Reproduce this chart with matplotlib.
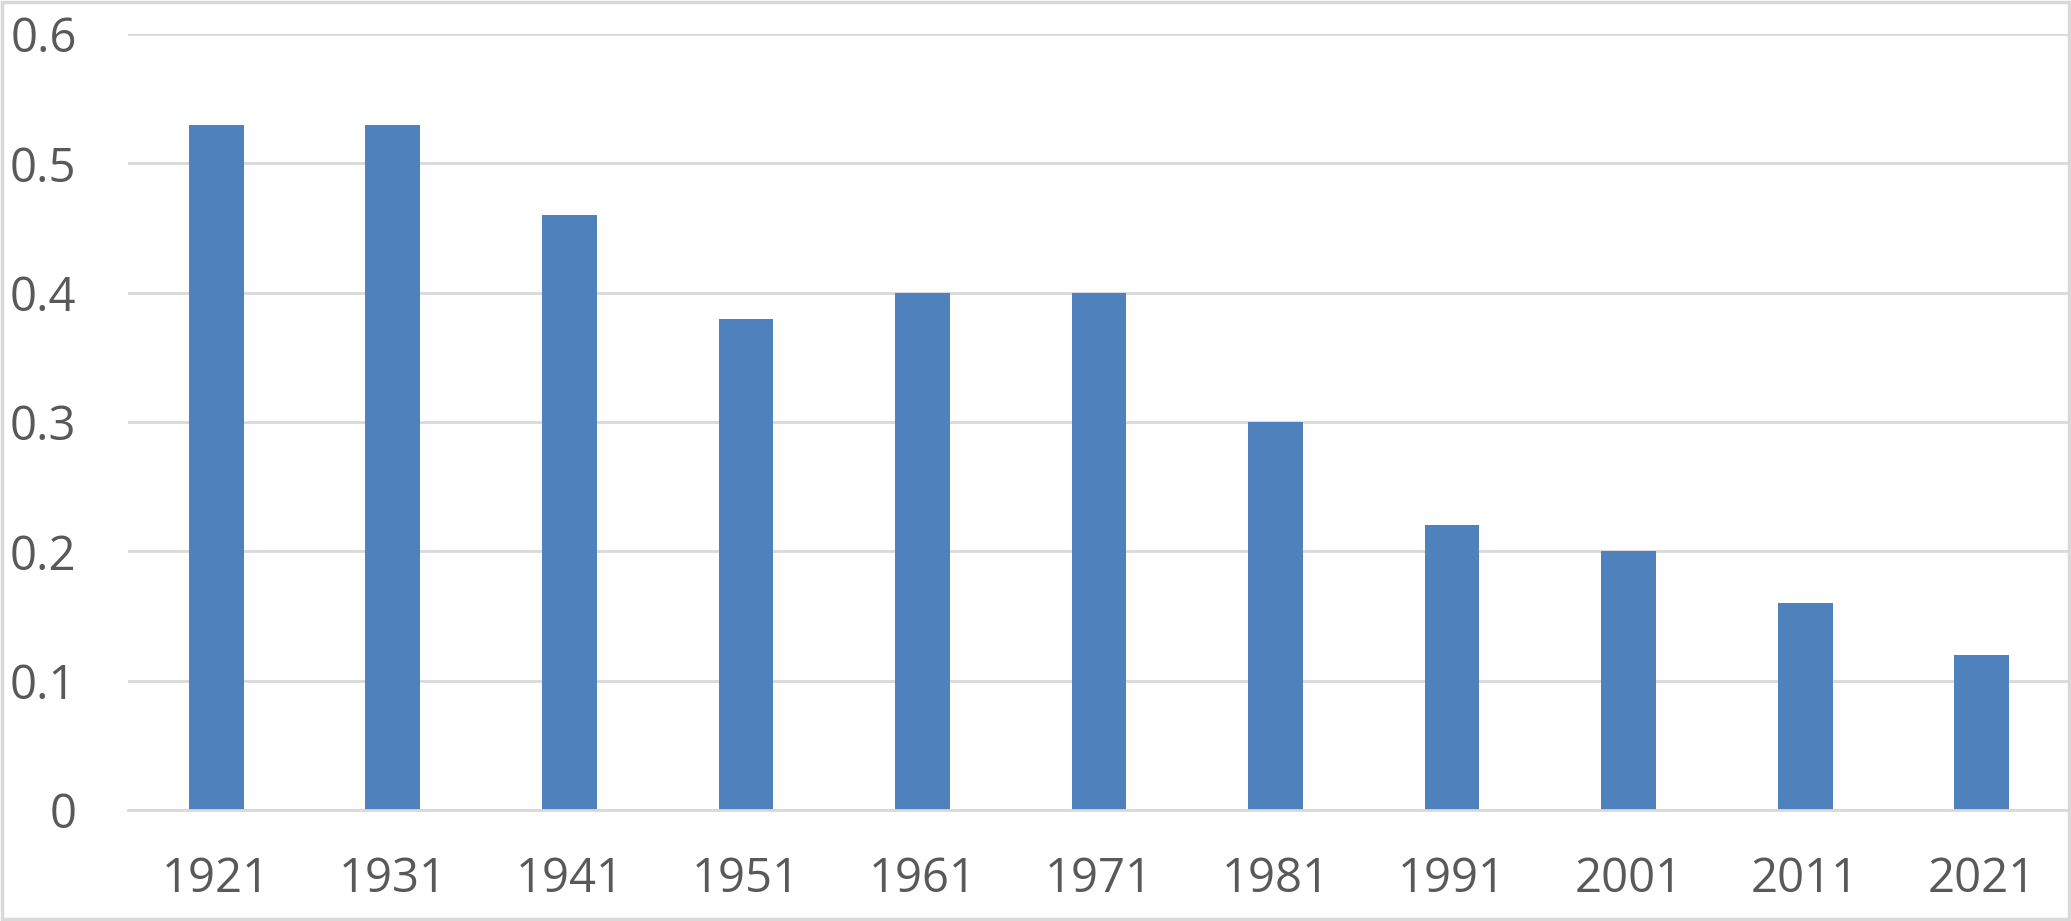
import matplotlib
matplotlib.use("Agg")
from matplotlib import pyplot as plt
from matplotlib.patches import Rectangle

years = ["1921", "1931", "1941", "1951", "1961", "1971",
         "1981", "1991", "2001", "2011", "2021"]
values = [0.53, 0.53, 0.46, 0.38, 0.40, 0.40, 0.30, 0.22, 0.20, 0.16, 0.12]
yticks = [0, 0.1, 0.2, 0.3, 0.4, 0.5, 0.6]
ytick_labels = ["0", "0.1", "0.2", "0.3", "0.4", "0.5", "0.6"]

plt.rcParams["font.family"] = ["Open Sans", "DejaVu Sans"]
text_color = "#595959"
grid_color = "#d9d9d9"

W, H = 2071, 921
fig = plt.figure(figsize=(W / 100, H / 100), dpi=100)
ax = fig.add_axes([128 / W, 1 - 810 / H, (2070 - 128) / W, (810 - 34) / H])

x = range(len(years))
ax.bar(x, values, width=0.31, color="#4f81bd", zorder=3)

ax.set_xlim(-0.5, len(years) - 0.5)
ax.set_ylim(0, 0.6)
ax.set_yticks(yticks)
ax.set_yticklabels(ytick_labels)
ax.set_xticks(list(x))
ax.set_xticklabels(years)

ax.yaxis.grid(True, color=grid_color, linewidth=2.0, zorder=0)
ax.set_axisbelow(True)
for side in ["top", "right", "left"]:
    ax.spines[side].set_visible(False)
ax.spines["bottom"].set_color(grid_color)
ax.spines["bottom"].set_linewidth(2.0)
ax.spines["bottom"].set_zorder(4)

ax.tick_params(axis="both", length=0, colors=text_color, labelsize=34)
ax.tick_params(axis="y", pad=37)
ax.tick_params(axis="x", pad=33)

# light frame round the whole picture
fig.patches.append(Rectangle((0.001, 0.002), 0.998, 0.996, transform=fig.transFigure,
                             fill=False, edgecolor=grid_color, linewidth=2.5))

fig.savefig("out.png", dpi=100)
